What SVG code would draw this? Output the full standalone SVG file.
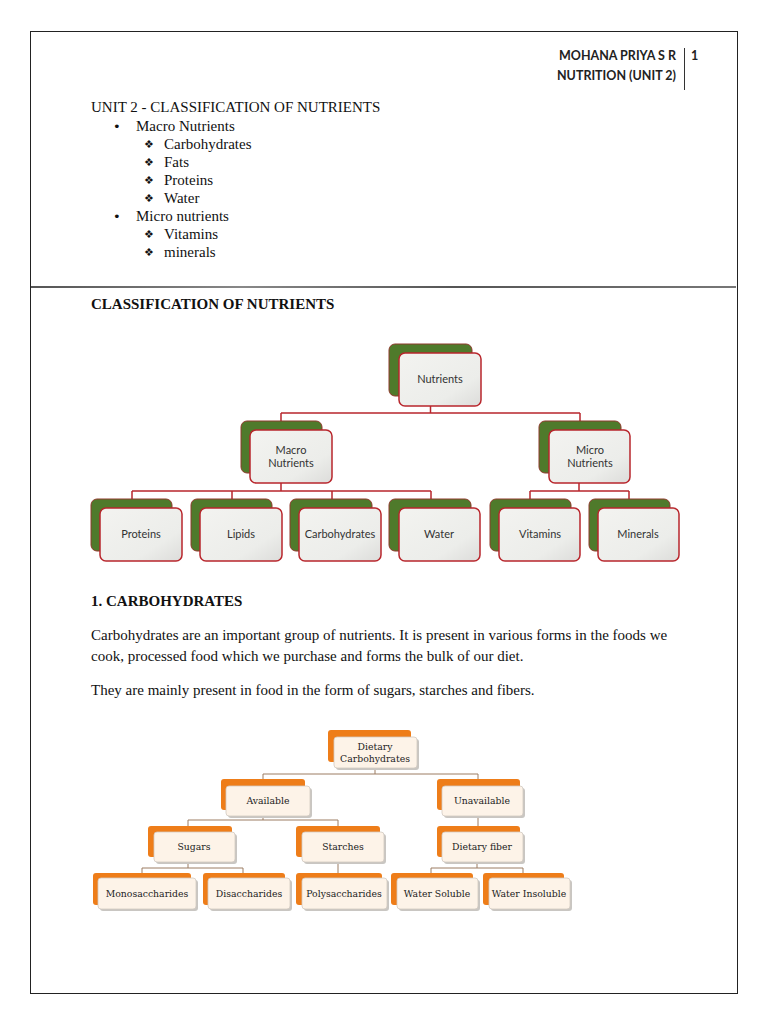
<svg xmlns="http://www.w3.org/2000/svg" width="768" height="1024" viewBox="0 0 768 1024">
<defs>
<linearGradient id="gfront" x1="0" y1="0" x2="1" y2="1">
<stop offset="0" stop-color="#f3f3f0"/>
<stop offset="0.7" stop-color="#ecedea"/>
<stop offset="1" stop-color="#dcdcda"/>
</linearGradient>
<linearGradient id="divider" x1="0" y1="0" x2="1" y2="0">
<stop offset="0" stop-color="#555"/>
<stop offset="0.3" stop-color="#888"/>
<stop offset="0.6" stop-color="#555"/>
<stop offset="1" stop-color="#777"/>
</linearGradient>
<style>
.serif{font-family:"Liberation Serif","Times New Roman",serif;font-size:15px;fill:#111}
.bold{font-weight:bold}
.hdr{font-family:Lato,"Liberation Sans",sans-serif;font-size:12.5px;font-weight:bold;fill:#222}
.gback{fill:#4f7a2b;stroke:#8e3a2c;stroke-width:1}
.gfront{fill:url(#gfront);stroke:#b8262c;stroke-width:1.5}
.gtxt{font-family:Lato,"Liberation Sans",sans-serif;font-size:11px;fill:#333;text-anchor:middle}
.gcon{stroke:#b8262c;stroke-width:1.5;fill:none}
.oback{fill:#ee7d19}
.oshadow{fill:#c9c6c2}
.ofront{fill:#fdf3e8;stroke:#d2c9c0;stroke-width:0.8}
.otxt{font-family:"DejaVu Serif","Liberation Serif",serif;font-size:9.3px;fill:#222;text-anchor:middle}
.ocon{stroke:#9c7d62;stroke-width:1;fill:none}
.bul{font-family:"DejaVu Sans",sans-serif;font-size:13px;fill:#111}
.dia{font-family:"DejaVu Sans",sans-serif;font-size:11px;fill:#111}
</style>
</defs>

<rect x="30.5" y="31.5" width="707" height="962" fill="#fff" stroke="#222" stroke-width="1"/>

<g id="header">
<text class="hdr" x="676" y="60" text-anchor="end">MOHANA PRIYA S R</text>
<text class="hdr" x="676" y="80" text-anchor="end">NUTRITION (UNIT 2)</text>
<line x1="684.5" y1="48" x2="684.5" y2="90" stroke="#333" stroke-width="1"/>
<text class="hdr" x="691" y="60">1</text>
</g>

<g id="outline">
<text class="serif" x="91" y="112">UNIT 2 - CLASSIFICATION OF NUTRIENTS</text>
<text class="bul" x="113" y="131">•</text>
<text class="serif" x="136" y="131">Macro Nutrients</text>
<text class="dia" x="144" y="148">❖</text>
<text class="serif" x="164" y="149">Carbohydrates</text>
<text class="dia" x="144" y="166">❖</text>
<text class="serif" x="164" y="167">Fats</text>
<text class="dia" x="144" y="184">❖</text>
<text class="serif" x="164" y="185">Proteins</text>
<text class="dia" x="144" y="202">❖</text>
<text class="serif" x="164" y="203">Water</text>
<text class="bul" x="113" y="221">•</text>
<text class="serif" x="136" y="221">Micro nutrients</text>
<text class="dia" x="144" y="238">❖</text>
<text class="serif" x="164" y="239">Vitamins</text>
<text class="dia" x="144" y="256">❖</text>
<text class="serif" x="164" y="257">minerals</text>
</g>

<rect x="31" y="286" width="705" height="2" fill="url(#divider)"/>

<text class="serif bold" x="91" y="309">CLASSIFICATION OF NUTRIENTS</text>

<g id="green-connectors">
<path class="gcon" d="M430.5 406 V413 M281 413 H580 M281 413 V421 M580 413 V421"/>
<path class="gcon" d="M281 483 V491 M132 491 H431 M132 491 V499 M232 491 V499 M332 491 V499 M431 491 V499"/>
<path class="gcon" d="M579 483 V491 M530 491 H629 M530 491 V499 M629 491 V499"/>
</g>

<g id="n-nutrients">
<rect class="gback" x="389" y="344" width="83" height="52" rx="6"/>
<rect class="gfront" x="399" y="353" width="82" height="53" rx="6"/>
<text class="gtxt" x="440" y="383">Nutrients</text>
</g>
<g id="n-macro">
<rect class="gback" x="241" y="421" width="81" height="52" rx="6"/>
<rect class="gfront" x="250" y="430" width="82" height="53" rx="6"/>
<text class="gtxt" x="291" y="454">Macro</text>
<text class="gtxt" x="291" y="467">Nutrients</text>
</g>
<g id="n-micro">
<rect class="gback" x="539" y="421" width="82" height="52" rx="6"/>
<rect class="gfront" x="549" y="430" width="81" height="53" rx="6"/>
<text class="gtxt" x="590" y="454">Micro</text>
<text class="gtxt" x="590" y="467">Nutrients</text>
</g>
<g id="n-proteins">
<rect class="gback" x="91" y="499" width="81" height="52" rx="6"/>
<rect class="gfront" x="100" y="508" width="82" height="53" rx="6"/>
<text class="gtxt" x="141" y="538">Proteins</text>
</g>
<g id="n-lipids">
<rect class="gback" x="191" y="499" width="81" height="52" rx="6"/>
<rect class="gfront" x="200" y="508" width="82" height="53" rx="6"/>
<text class="gtxt" x="241" y="538">Lipids</text>
</g>
<g id="n-carbohydrates">
<rect class="gback" x="290" y="499" width="82" height="52" rx="6"/>
<rect class="gfront" x="299" y="508" width="82" height="53" rx="6"/>
<text class="gtxt" x="340" y="538">Carbohydrates</text>
</g>
<g id="n-water">
<rect class="gback" x="389" y="499" width="82" height="52" rx="6"/>
<rect class="gfront" x="399" y="508" width="81" height="53" rx="6"/>
<text class="gtxt" x="439" y="538">Water</text>
</g>
<g id="n-vitamins">
<rect class="gback" x="490" y="499" width="81" height="52" rx="6"/>
<rect class="gfront" x="499" y="508" width="81" height="53" rx="6"/>
<text class="gtxt" x="540" y="538">Vitamins</text>
</g>
<g id="n-minerals">
<rect class="gback" x="589" y="499" width="81" height="52" rx="6"/>
<rect class="gfront" x="598" y="508" width="81" height="53" rx="6"/>
<text class="gtxt" x="638" y="538">Minerals</text>
</g>

<g id="carb-text">
<text class="serif bold" x="91" y="606">1. CARBOHYDRATES</text>
<text class="serif" x="91" y="640">Carbohydrates are an important group of nutrients. It is present in various forms in the foods we</text>
<text class="serif" x="91" y="661">cook, processed food which we purchase and forms the bulk of our diet.</text>
<text class="serif" x="91" y="695">They are mainly present in food in the form of sugars, starches and fibers.</text>
</g>

<g id="orange-connectors">
<path class="ocon" d="M375 768 V774 M263 774 H478 M263 774 V779 M478 774 V779"/>
<path class="ocon" d="M263 816 V820 M188 820 H338 M188 820 V826 M338 820 V826"/>
<path class="ocon" d="M478 816 V826"/>
<path class="ocon" d="M188 862 V868 M142 868 H243 M142 868 V873 M243 868 V873"/>
<path class="ocon" d="M338 862 V873"/>
<path class="ocon" d="M477 862 V868 M431 868 H523 M431 868 V873 M523 868 V873"/>
</g>

<g id="o-dietary">
<rect class="oback" x="328" y="730" width="83" height="32" rx="3"/>
<rect class="oshadow" x="336" y="739" width="83" height="31" rx="3"/>
<rect class="ofront" x="334" y="737" width="83" height="31" rx="3"/>
<text class="otxt" x="375" y="750">Dietary</text>
<text class="otxt" x="375" y="762">Carbohydrates</text>
</g>
<g id="o-available">
<rect class="oback" x="221" y="779" width="84" height="31" rx="3"/>
<rect class="oshadow" x="228" y="788" width="84" height="30" rx="3"/>
<rect class="ofront" x="226" y="786" width="84" height="30" rx="3"/>
<text class="otxt" x="268" y="804">Available</text>
</g>
<g id="o-unavailable">
<rect class="oback" x="437" y="779" width="83" height="31" rx="3"/>
<rect class="oshadow" x="444" y="788" width="81" height="30" rx="3"/>
<rect class="ofront" x="442" y="786" width="81" height="30" rx="3"/>
<text class="otxt" x="482" y="804">Unavailable</text>
</g>
<g id="o-sugars">
<rect class="oback" x="148" y="826" width="84" height="31" rx="3"/>
<rect class="oshadow" x="156" y="834" width="81" height="30" rx="3"/>
<rect class="ofront" x="154" y="832" width="81" height="30" rx="3"/>
<text class="otxt" x="194" y="850">Sugars</text>
</g>
<g id="o-starches">
<rect class="oback" x="296" y="826" width="84" height="31" rx="3"/>
<rect class="oshadow" x="304" y="834" width="82" height="30" rx="3"/>
<rect class="ofront" x="302" y="832" width="82" height="30" rx="3"/>
<text class="otxt" x="343" y="850">Starches</text>
</g>
<g id="o-fiber">
<rect class="oback" x="437" y="826" width="83" height="31" rx="3"/>
<rect class="oshadow" x="444" y="834" width="81" height="30" rx="3"/>
<rect class="ofront" x="442" y="832" width="81" height="30" rx="3"/>
<text class="otxt" x="482" y="850">Dietary fiber</text>
</g>
<g id="o-mono">
<rect class="oback" x="93" y="873" width="98" height="32" rx="3"/>
<rect class="oshadow" x="100" y="880" width="98" height="31" rx="3"/>
<rect class="ofront" x="98" y="878" width="98" height="31" rx="3"/>
<text class="otxt" x="147" y="897">Monosaccharides</text>
</g>
<g id="o-di">
<rect class="oback" x="203" y="873" width="82" height="32" rx="3"/>
<rect class="oshadow" x="210" y="880" width="82" height="31" rx="3"/>
<rect class="ofront" x="208" y="878" width="82" height="31" rx="3"/>
<text class="otxt" x="249" y="897">Disaccharides</text>
</g>
<g id="o-poly">
<rect class="oback" x="296" y="873" width="86" height="32" rx="3"/>
<rect class="oshadow" x="304" y="880" width="85" height="31" rx="3"/>
<rect class="ofront" x="302" y="878" width="85" height="31" rx="3"/>
<text class="otxt" x="344" y="897">Polysaccharides</text>
</g>
<g id="o-soluble">
<rect class="oback" x="391" y="873" width="82" height="32" rx="3"/>
<rect class="oshadow" x="399" y="880" width="81" height="31" rx="3"/>
<rect class="ofront" x="397" y="878" width="81" height="31" rx="3"/>
<text class="otxt" x="437" y="897">Water Soluble</text>
</g>
<g id="o-insoluble">
<rect class="oback" x="483" y="873" width="81" height="32" rx="3"/>
<rect class="oshadow" x="491" y="880" width="81" height="31" rx="3"/>
<rect class="ofront" x="489" y="878" width="81" height="31" rx="3"/>
<text class="otxt" x="529" y="897">Water Insoluble</text>
</g>
</svg>
